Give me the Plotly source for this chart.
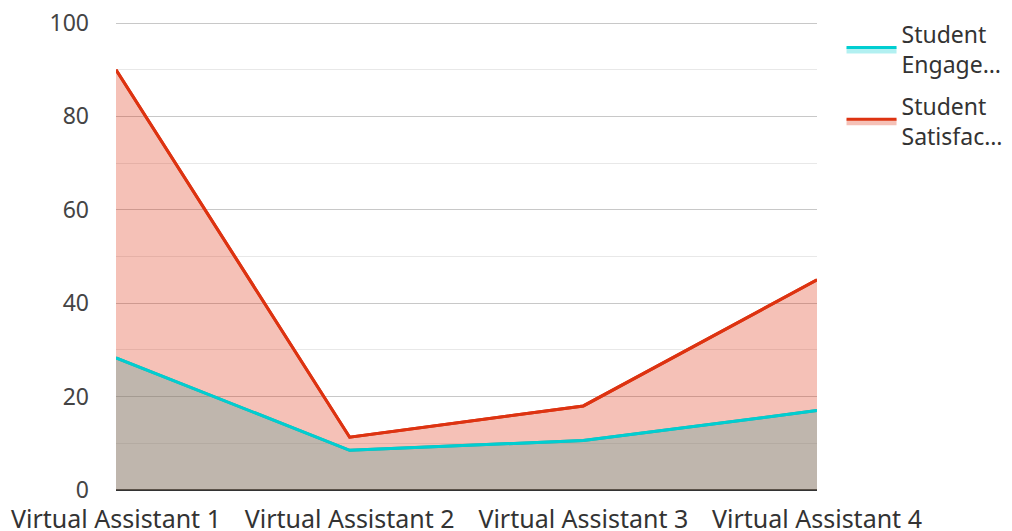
import plotly.graph_objects as go

categories = ["Virtual Assistant 1", "Virtual Assistant 2", "Virtual Assistant 3", "Virtual Assistant 4"]
engagement = [28.3, 8.5, 10.6, 17.0]
satisfaction = [90.0, 11.3, 18.0, 45.0]
series_names = ["Student<br>Engage…", "Student<br>Satisfac…"]
y_ticks = [0, 20, 40, 60, 80, 100]

teal = "rgb(0,206,209)"
red = "rgb(221,51,17)"

fig = go.Figure()
fig.add_trace(go.Scatter(x=categories, y=engagement, name=series_names[0], mode="lines",
                         legendgroup="eng",
                         line=dict(color=teal, width=3), fill="tozeroy",
                         fillcolor="rgba(0,206,209,0.3)"))
fig.add_trace(go.Scatter(x=categories, y=satisfaction, name=series_names[1], mode="lines",
                         legendgroup="sat",
                         line=dict(color=red, width=3), fill="tozeroy",
                         fillcolor="rgba(221,51,17,0.3)"))
# redraw lines on top of fills
fig.add_trace(go.Scatter(x=categories, y=engagement, mode="lines", showlegend=False,
                         legendgroup="eng",
                         line=dict(color=teal, width=3), hoverinfo="skip"))
fig.add_trace(go.Scatter(x=categories, y=satisfaction, mode="lines", showlegend=False,
                         legendgroup="sat",
                         line=dict(color=red, width=3), hoverinfo="skip"))

fig.update_layout(
    width=1004, height=523,
    margin=dict(l=108, r=195, t=13, b=41, autoexpand=False),
    paper_bgcolor="white", plot_bgcolor="white",
    font=dict(family="Noto Sans, Open Sans, sans-serif", size=23, color="#444"),
    legend=dict(x=1.035, y=1.017, xanchor="left", yanchor="top",
                font=dict(size=23, color="#333"), tracegroupgap=9,
                itemwidth=50),
    showlegend=True,
)
fig.update_xaxes(type="category", range=[0, 3], showgrid=False, zeroline=False,
                 showline=False, ticks="", automargin=False, ticklabelstandoff=12,
                 ticklabeloverflow="allow",
                 tickfont=dict(size=25, color="#333"))
fig.update_yaxes(range=[0, 100.43], tickvals=y_ticks, showgrid=True, gridcolor="#c8c8c8",
                 gridwidth=1, zeroline=True, zerolinecolor="#333", zerolinewidth=2,
                 ticks="", automargin=False, ticklabelstandoff=26,
                 ticklabeloverflow="allow",
                 tickfont=dict(size=23, color="#444"),
                 minor=dict(dtick=10, showgrid=True, gridcolor="#e8e8e8", gridwidth=1))

fig.write_html("out.html")
